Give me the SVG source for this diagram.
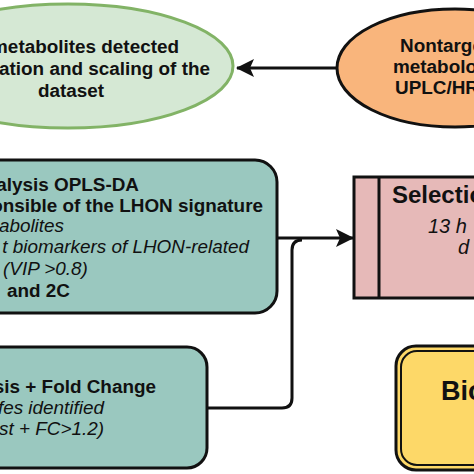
<svg xmlns="http://www.w3.org/2000/svg" width="474" height="474" viewBox="0 0 474 474">
<defs>
<style>
text{font-family:"Liberation Sans",Arial,sans-serif;font-size:18.9px;fill:#111}
.b{font-weight:bold}
.i{font-style:italic}
.e{text-anchor:end}
.teal{fill:#9ac8bf;stroke:#111;stroke-width:3}
.conn{fill:none;stroke:#111;stroke-width:3}
</style>
<marker id="ah" markerWidth="18" markerHeight="18" viewBox="0 0 18 18" refX="17" refY="9" orient="auto" markerUnits="userSpaceOnUse">
<path d="M0,0 L18,9 L0,18 L4,9 z" fill="#111"/>
</marker>
</defs>
<rect width="474" height="474" fill="#fff"/>
<g id="connectors">
<line class="conn" x1="337" y1="68" x2="237" y2="68" marker-end="url(#ah)"/>
<line class="conn" x1="277" y1="238" x2="353" y2="238" marker-end="url(#ah)"/>
<path class="conn" d="M207,408 H282 Q292,408 292,398 V250 Q292,240 302,240"/>
</g>
<g id="n-normalization">
<ellipse cx="68" cy="66" rx="165" ry="62" fill="#d5e8d4" stroke="#82b366" stroke-width="3"/>
<text class="b e" x="179" y="53">metabolites detected</text>
<text class="b e" x="210" y="75">ation and scaling of the</text>
<text class="b" x="71" y="97" text-anchor="middle">dataset</text>
</g>
<g id="n-nontargeted">
<ellipse cx="455" cy="68" rx="118" ry="59" fill="#f9b57c" stroke="#111" stroke-width="3"/>
<text class="b" x="400" y="52">Nontarge</text>
<text class="b" x="393" y="73">metabolo</text>
<text class="b" x="395" y="94">UPLC/HR</text>
</g>
<g id="n-oplsda">
<rect class="teal" x="-30" y="160" width="307" height="153" rx="22"/>
<text class="b e" x="139" y="191">alysis OPLS-DA</text>
<text class="b e" x="263" y="212">onsible of the LHON signature</text>
<text class="i e" x="64" y="232">abolites</text>
<text class="i e" x="249" y="253">t biomarkers of LHON-related</text>
<text class="i" x="3" y="275">(VIP &gt;0.8)</text>
<text class="b" x="7" y="297">and 2C</text>
</g>
<g id="n-foldchange">
<rect class="teal" x="-30" y="347" width="237" height="121" rx="20"/>
<text class="b e" x="156" y="393">sis + Fold Change</text>
<text class="i e" x="104" y="414">fes identified</text>
<text class="i e" x="104" y="435">st + FC&gt;1.2)</text>
</g>
<g id="n-selection">
<rect x="354" y="177" width="140" height="121" fill="#e6b9b8" stroke="#111" stroke-width="3"/>
<line x1="379" y1="177" x2="379" y2="298" stroke="#111" stroke-width="3"/>
<text class="b" x="392" y="203" style="font-size:24px">Selection</text>
<text class="i" x="428" y="233" style="font-size:20px">13 h</text>
<text class="i" x="458" y="254" style="font-size:20px">d</text>
</g>
<g id="n-biomarkers">
<rect x="396" y="346" width="110" height="124" rx="20" fill="#fdd868" stroke="#111" stroke-width="3"/>
<rect x="401" y="351" width="100" height="114" rx="16" fill="none" stroke="#111" stroke-width="2"/>
<text class="b" x="441" y="400" style="font-size:27px">Bio</text>
</g>
</svg>
